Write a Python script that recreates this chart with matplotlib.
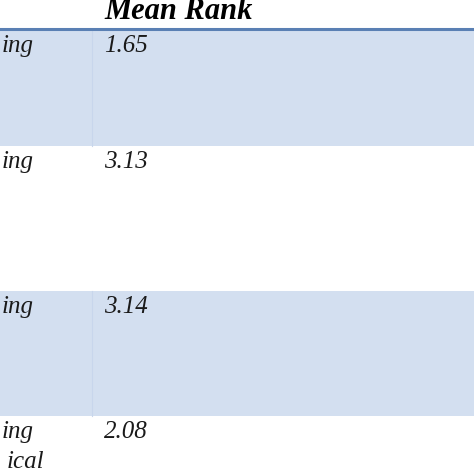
import matplotlib
matplotlib.use("Agg")
import matplotlib.pyplot as plt
from matplotlib.patches import Rectangle

header = "Mean Rank"
row_labels = [["ing"], ["ing"], ["ing"], ["ing", "ical"]]
label_right = [[34], [34], [34], [34, 44]]
mean_ranks = ["1.65", "3.13", "3.14", "2.08"]
row_tops = [30, 146, 291, 416]
row_bottoms = [146, 291, 416, 474]
shaded = [True, False, True, False]

fig = plt.figure(figsize=(4.74, 4.74), dpi=100)
ax = fig.add_axes([0, 0, 1, 1])
ax.set_xlim(0, 474)
ax.set_ylim(474, 0)
ax.axis("off")

fill = "#d3dff0"
for top, bot, sh in zip(row_tops, row_bottoms, shaded):
    if sh:
        ax.add_patch(Rectangle((0, top), 474, bot - top, color=fill, lw=0))
        ax.plot([92, 92], [top, bot], color="#c8d6ec", lw=0.8)

ax.plot([0, 474], [29, 29], color="#5a80b4", lw=2.2)

font = dict(family="Liberation Serif", style="italic", fontsize=18, color="#1a1a1a")
ax.text(104, 11, header, family="Liberation Serif", style="italic", weight="bold",
        fontsize=22, color="black", va="center", ha="left")

for top, labels, rights, val in zip(row_tops, row_labels, label_right, mean_ranks):
    ax.text(104, top + 16, val, va="center", ha="left", **font)
    for i, (lab, r) in enumerate(zip(labels, rights)):
        ax.text(r, top + 16 + i * 30, lab, va="center", ha="right", **font)

fig.savefig("out.png", dpi=100)
